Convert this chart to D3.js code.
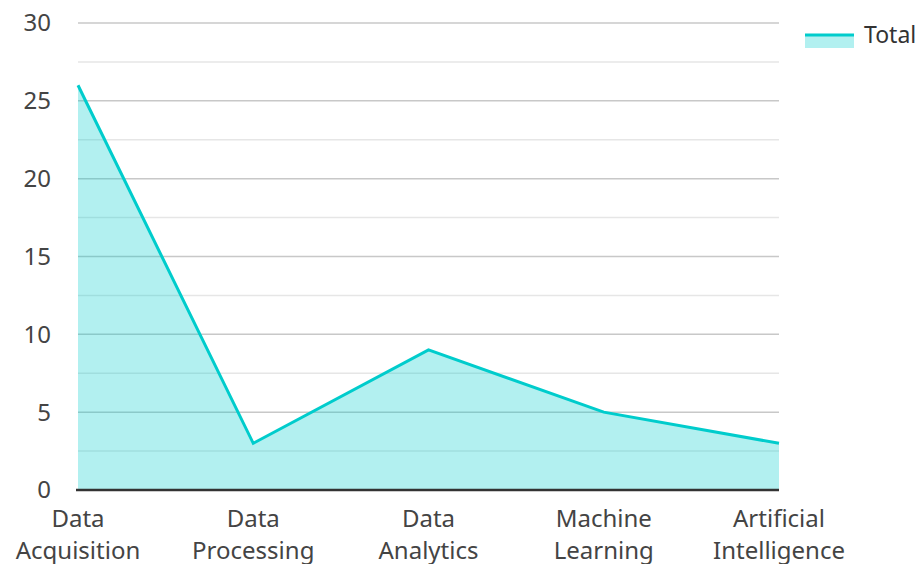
<!DOCTYPE html>
<html>
<head>
<meta charset="utf-8">
<script src="https://cdn.jsdelivr.net/npm/d3@7"></script>
<style>
    body { margin: 0; background: #fff; }
    text { font-family: "Noto Sans", "Open Sans", sans-serif; }
</style>
</head>
<body>
<svg id="chart" width="920" height="564"></svg>
<script>
    const categories = [["Data", "Acquisition"], ["Data", "Processing"], ["Data", "Analytics"], ["Machine", "Learning"], ["Artificial", "Intelligence"]];
    const values = [26, 3, 9, 5, 3];
    const y_ticks = [0, 5, 10, 15, 20, 25, 30];
    const minor_ticks = [2.5, 7.5, 12.5, 17.5, 22.5, 27.5];
    const series_name = "Total";

    const svg = d3.select('#chart');

    const LEFT = 78;
    const RIGHT = 779;
    const TOP = 23;
    const BOTTOM = 490;
    const FONT_SIZE = 24;
    const LINE_COLOR = '#00cccc';

    const x = d3.scalePoint()
        .domain(d3.range(categories.length))
        .range([LEFT, RIGHT]);

    const y = d3.scaleLinear()
        .domain([0, 30])
        .range([BOTTOM, TOP]);

    // gridlines
    svg.append('g').selectAll('line')
        .data(minor_ticks)
        .enter().append('line')
        .attr('x1', LEFT).attr('x2', RIGHT)
        .attr('y1', d => y(d)).attr('y2', d => y(d))
        .attr('stroke', '#e6e6e6')
        .attr('stroke-width', 1.5);

    svg.append('g').selectAll('line')
        .data(y_ticks.filter(d => d > 0))
        .enter().append('line')
        .attr('x1', LEFT).attr('x2', RIGHT)
        .attr('y1', d => y(d)).attr('y2', d => y(d))
        .attr('stroke', '#c8c8c8')
        .attr('stroke-width', 1.5);

    // y labels
    svg.append('g').selectAll('text')
        .data(y_ticks)
        .enter().append('text')
        .text(d => d)
        .attr('x', 51)
        .attr('y', d => y(d))
        .attr('dy', '0.35em')
        .attr('text-anchor', 'end')
        .attr('font-size', FONT_SIZE)
        .attr('fill', '#444');

    // area + line
    const area = d3.area()
        .x((d, i) => x(i))
        .y0(y(0))
        .y1(d => y(d));
    const line = d3.line()
        .x((d, i) => x(i))
        .y(d => y(d));

    svg.append('path')
        .datum(values)
        .attr('d', area)
        .attr('fill', LINE_COLOR)
        .attr('fill-opacity', 0.3);

    svg.append('path')
        .datum(values)
        .attr('d', line)
        .attr('fill', 'none')
        .attr('stroke', LINE_COLOR)
        .attr('stroke-width', 3);

    // x axis line
    svg.append('line')
        .attr('x1', LEFT - 2).attr('x2', RIGHT)
        .attr('y1', BOTTOM).attr('y2', BOTTOM)
        .attr('stroke', '#333')
        .attr('stroke-width', 2.5);

    // x labels
    const xl = svg.append('g').selectAll('text')
        .data(categories)
        .enter().append('text')
        .attr('x', (d, i) => x(i))
        .attr('y', 527)
        .attr('text-anchor', 'middle')
        .attr('font-size', FONT_SIZE)
        .attr('fill', '#444');
    xl.append('tspan').attr('x', (d, i) => x(i)).text(d => d[0]);
    xl.append('tspan').attr('x', (d, i) => x(i)).attr('dy', 32).text(d => d[1]);

    // legend
    const legend = svg.append('g');
    legend.append('rect')
        .attr('x', 805).attr('y', 35)
        .attr('width', 49).attr('height', 13)
        .attr('fill', LINE_COLOR).attr('fill-opacity', 0.3);
    legend.append('line')
        .attr('x1', 805).attr('x2', 854)
        .attr('y1', 35).attr('y2', 35)
        .attr('stroke', LINE_COLOR).attr('stroke-width', 3);
    legend.append('text')
        .text(series_name)
        .attr('x', 864).attr('y', 35)
        .attr('dy', '0.35em')
        .attr('font-size', 23)
        .attr('fill', '#333');
</script>
</body>
</html>
